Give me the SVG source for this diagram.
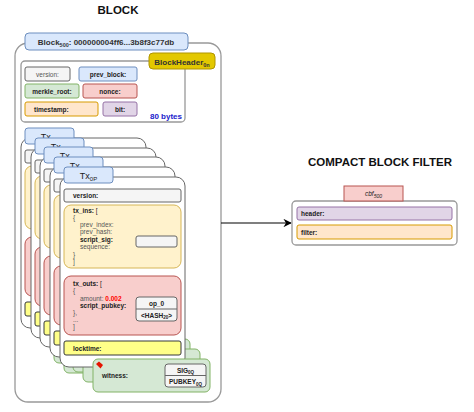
<svg xmlns="http://www.w3.org/2000/svg" xmlns:xlink="http://www.w3.org/1999/xlink" width="474" height="412" viewBox="0 0 474 412">
<style>
text{font-family:"Liberation Sans",Arial,sans-serif;fill:#222}
.title{font-size:11.5px;font-weight:bold;text-anchor:middle;fill:#111}
.b{font-weight:bold}
.f{font-size:6.5px}
.lbl{font-size:8.5px;font-weight:bold}
.grey{fill:#f5f5f5;stroke:#666;stroke-width:1}
.blue{fill:#dae8fc;stroke:#6c8ebf;stroke-width:1}
.green{fill:#d5e8d4;stroke:#82b366;stroke-width:1}
.red{fill:#f8cecc;stroke:#b85450;stroke-width:1}
.orange{fill:#ffe6cc;stroke:#d79b00;stroke-width:1}
.purple{fill:#e1d5e7;stroke:#9673a6;stroke-width:1}
.yellow{fill:#fff2cc;stroke:#d6b656;stroke-width:1}
.card{fill:#fff;stroke:#666;stroke-width:1}
.cont{fill:#fff;stroke:#999;stroke-width:1.3}
</style>
<defs>
<marker id="arr" viewBox="0 0 10 10" refX="9" refY="5" markerWidth="7" markerHeight="7" orient="auto">
<path d="M0,0 L10,5 L0,10 L3,5 z" fill="#000"/>
</marker>
<g id="txcard">
<rect x="0" y="0" width="125" height="190" rx="9" class="card"/>
<rect x="4" y="12" width="117" height="13" rx="2" class="grey"/>
<rect x="4" y="28" width="117" height="63" rx="7" class="yellow"/>
<rect x="4" y="99" width="117" height="59" rx="7" class="red"/>
<rect x="4" y="164" width="117" height="14" rx="2" fill="#ffff88" stroke="#36393d"/>
</g>
<g id="wit">
<rect x="0" y="0" width="117" height="33" rx="5" class="green"/>
</g>
<g id="txlabel">
<rect x="0" y="0" width="49" height="16" rx="3" class="blue"/>
<text x="24.5" y="11.5" font-size="9" text-anchor="middle">Tx<tspan font-size="6" dy="2">0P</tspan></text>
</g>
</defs>

<text x="118" y="14" class="title">BLOCK</text>
<text x="380" y="166" class="title">COMPACT BLOCK FILTER</text>

<g id="block">
<rect x="15" y="43" width="206" height="359" rx="13" class="cont"/>
<rect x="25" y="33" width="163" height="17" rx="4" class="blue"/>
<text x="106" y="45" text-anchor="middle" font-size="8" font-weight="bold" style="fill:#333">Block<tspan font-size="5.5" dy="2">500</tspan><tspan dy="-2">: 000000004ff6...3b8f3c77db</tspan></text>
</g>

<g id="blockheader">
<rect x="21" y="61" width="164" height="61" rx="4" class="cont"/>
<rect x="149" y="53" width="66" height="16" rx="4" fill="#e3c800" stroke="#b09500"/>
<text x="182" y="64.5" text-anchor="middle" font-size="8" font-weight="bold" style="fill:#333">BlockHeader<tspan font-size="5.5" dy="2">0n</tspan></text>
<rect x="25" y="67" width="45" height="14" rx="2" class="grey"/>
<text x="47.5" y="76.5" class="f" text-anchor="middle" style="fill:#555">version:</text>
<rect x="79" y="67" width="58" height="14" rx="2" class="blue"/>
<text x="108" y="76.5" class="f b" text-anchor="middle">prev_block:</text>
<rect x="25" y="84" width="54" height="14" rx="2" class="green"/>
<text x="52" y="93.5" class="f b" text-anchor="middle">merkle_root:</text>
<rect x="83" y="84" width="54" height="14" rx="2" class="red"/>
<text x="110" y="93.5" class="f b" text-anchor="middle">nonce:</text>
<rect x="25" y="102" width="73" height="14" rx="2" class="orange"/>
<text x="34" y="111.5" class="f b">timestamp:</text>
<rect x="103" y="102" width="34" height="14" rx="2" class="purple"/>
<text x="120" y="111.5" class="f b" text-anchor="middle">bit:</text>
<text x="182" y="119" text-anchor="end" font-size="8" font-weight="bold" style="fill:#1a1acc">80 bytes</text>
</g>

<g id="tx1">
<use xlink:href="#txcard" href="#txcard" x="21" y="138"/>
<use xlink:href="#wit" href="#wit" x="54" y="330"/>
<use xlink:href="#txlabel" href="#txlabel" x="25" y="128"/>
</g>
<g id="tx2">
<use xlink:href="#txcard" href="#txcard" x="31" y="148"/>
<use xlink:href="#wit" href="#wit" x="64" y="340"/>
<use xlink:href="#txlabel" href="#txlabel" x="35" y="138"/>
</g>
<g id="tx3">
<use xlink:href="#txcard" href="#txcard" x="40" y="157"/>
<use xlink:href="#wit" href="#wit" x="73" y="339"/>
<use xlink:href="#txlabel" href="#txlabel" x="44" y="147"/>
</g>
<g id="tx4">
<use xlink:href="#txcard" href="#txcard" x="50" y="167"/>
<use xlink:href="#wit" href="#wit" x="83" y="349"/>
<use xlink:href="#txlabel" href="#txlabel" x="54" y="157"/>
</g>

<g id="tx5">
<use xlink:href="#txcard" href="#txcard" x="60" y="177"/>
<use xlink:href="#txlabel" href="#txlabel" x="64" y="167"/>
<text x="73" y="198" class="f b">version:</text>
<text x="73" y="213" class="f b">tx_ins: <tspan font-weight="normal">[</tspan></text>
<text x="73" y="220" class="f" style="fill:#555">{</text>
<text x="80" y="227" class="f" style="fill:#555">prev_index:</text>
<text x="80" y="234" class="f" style="fill:#555">prev_hash:</text>
<text x="80" y="241.5" class="f b">script_sig:</text>
<text x="80" y="249" class="f" style="fill:#555">sequence:</text>
<text x="73" y="257" class="f" style="fill:#555">}</text>
<text x="73" y="264" class="f" style="fill:#555">]</text>
<rect x="136" y="236" width="41" height="11" rx="2" class="grey"/>
<text x="73" y="286" class="f b">tx_outs: <tspan font-weight="normal">[</tspan></text>
<text x="73" y="293" class="f" style="fill:#555">{</text>
<text x="80" y="300.5" class="f" style="fill:#555">amount: <tspan font-weight="bold" style="fill:#ff0000">0.002</tspan></text>
<text x="80" y="307.5" class="f b">script_pubkey:</text>
<text x="73" y="315" class="f" style="fill:#555">},</text>
<text x="73" y="322" class="f" style="fill:#555">...</text>
<text x="73" y="329" class="f" style="fill:#555">]</text>
<rect x="136" y="297" width="41" height="24" rx="3" class="grey"/>
<line x1="136" y1="309" x2="177" y2="309" stroke="#666"/>
<text x="156.5" y="305.5" class="f b" text-anchor="middle">op_0</text>
<text x="156.5" y="317.5" class="f b" text-anchor="middle">&lt;HASH<tspan font-size="4.5" dy="1.5">20</tspan><tspan dy="-1.5">&gt;</tspan></text>
<text x="73" y="350.5" class="f b">locktime:</text>
</g>

<g id="witness">
<rect x="93" y="359" width="117" height="33" rx="5" class="green"/>
<path d="M96,364 L99,361.5 L103,365 L100.5,368.5 Z" fill="#e51400"/>
<text x="102" y="378" class="f b">witness:</text>
<rect x="165" y="364" width="41" height="23" rx="3" class="grey"/>
<line x1="165" y1="375.5" x2="206" y2="375.5" stroke="#666"/>
<text x="185.5" y="372.5" class="f b" text-anchor="middle">SIG<tspan font-size="4.5" dy="1.5">0Q</tspan></text>
<text x="185.5" y="384" class="f b" text-anchor="middle">PUBKEY<tspan font-size="4.5" dy="1.5">0Q</tspan></text>
</g>

<g id="connectors">
<line x1="221" y1="223" x2="291" y2="223" stroke="#000" stroke-width="1.2" marker-end="url(#arr)"/>
</g>

<g id="cbf">
<rect x="292" y="201" width="165" height="44" rx="4" class="cont"/>
<rect x="344" y="186" width="59" height="15" class="red"/>
<text x="373.5" y="196" text-anchor="middle" font-size="6.5" font-style="italic">cbf<tspan font-size="5" dy="1.5">500</tspan></text>
<rect x="297" y="207" width="155" height="13" rx="2" class="purple"/>
<text x="301" y="216" class="f b">header:</text>
<rect x="297" y="225" width="155" height="14" rx="2" class="orange"/>
<text x="301" y="234.5" class="f b">filter:</text>
</g>
</svg>
